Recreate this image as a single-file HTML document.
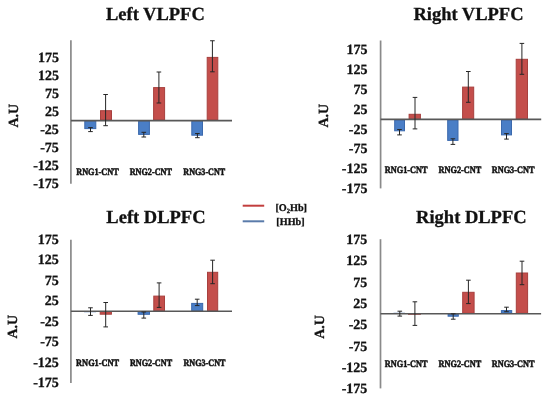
<!DOCTYPE html>
<html><head><meta charset="utf-8"><style>
html,body{margin:0;padding:0;background:#fff;}
body{width:550px;height:401px;position:relative;overflow:hidden;}
svg{position:absolute;left:0;top:0;filter:blur(0.6px);}
text{font-family:"Liberation Serif",serif;font-weight:bold;fill:#111;stroke:#111;stroke-width:0.3px;text-rendering:geometricPrecision;}
</style></head><body>
<svg width="550" height="401" viewBox="0 0 550 401">
<path d="M70.90 40.20V183.70" stroke="#8a8a8a" stroke-width="1.7" fill="none"/>
<rect x="84.80" y="121.10" width="11.00" height="7.50" fill="#4A7EC6" stroke="#3B69AD" stroke-width="1"/>
<rect x="100.50" y="110.70" width="11.00" height="9.40" fill="#C44E4B" stroke="#A8403E" stroke-width="1"/>
<rect x="138.60" y="121.10" width="10.80" height="13.30" fill="#4A7EC6" stroke="#3B69AD" stroke-width="1"/>
<rect x="153.60" y="87.60" width="11.00" height="32.50" fill="#C44E4B" stroke="#A8403E" stroke-width="1"/>
<rect x="191.80" y="121.10" width="10.70" height="14.10" fill="#4A7EC6" stroke="#3B69AD" stroke-width="1"/>
<rect x="207.20" y="57.40" width="10.60" height="62.70" fill="#C44E4B" stroke="#A8403E" stroke-width="1"/>
<path d="M70.90 120.60H232.00" stroke="#585858" stroke-width="1.6" fill="none"/>
<path d="M90.50 127.60V131.60M88.20 127.60H92.80M88.20 131.60H92.80" stroke="#262626" stroke-width="1.0" fill="none"/>
<path d="M105.60 94.50V125.70M103.30 94.50H107.90M103.30 125.70H107.90" stroke="#262626" stroke-width="1.0" fill="none"/>
<path d="M143.80 132.30V137.00M141.50 132.30H146.10M141.50 137.00H146.10" stroke="#262626" stroke-width="1.0" fill="none"/>
<path d="M158.90 72.00V103.00M156.60 72.00H161.20M156.60 103.00H161.20" stroke="#262626" stroke-width="1.0" fill="none"/>
<path d="M197.40 133.50V137.70M195.10 133.50H199.70M195.10 137.70H199.70" stroke="#262626" stroke-width="1.0" fill="none"/>
<path d="M212.40 40.75V71.80M210.10 40.75H214.70M210.10 71.80H214.70" stroke="#262626" stroke-width="1.0" fill="none"/>
<path d="M380.60 40.50V188.40" stroke="#8a8a8a" stroke-width="1.7" fill="none"/>
<rect x="394.70" y="119.90" width="9.80" height="10.90" fill="#4A7EC6" stroke="#3B69AD" stroke-width="1"/>
<rect x="409.10" y="114.30" width="11.30" height="4.60" fill="#C44E4B" stroke="#A8403E" stroke-width="1"/>
<rect x="447.70" y="119.90" width="10.30" height="20.50" fill="#4A7EC6" stroke="#3B69AD" stroke-width="1"/>
<rect x="462.60" y="87.10" width="11.10" height="31.80" fill="#C44E4B" stroke="#A8403E" stroke-width="1"/>
<rect x="501.50" y="119.90" width="10.00" height="15.00" fill="#4A7EC6" stroke="#3B69AD" stroke-width="1"/>
<rect x="516.20" y="59.30" width="11.30" height="59.60" fill="#C44E4B" stroke="#A8403E" stroke-width="1"/>
<path d="M380.60 119.40H541.20" stroke="#585858" stroke-width="1.6" fill="none"/>
<path d="M399.50 129.50V134.90M397.20 129.50H401.80M397.20 134.90H401.80" stroke="#262626" stroke-width="1.0" fill="none"/>
<path d="M415.00 97.40V128.90M412.70 97.40H417.30M412.70 128.90H417.30" stroke="#262626" stroke-width="1.0" fill="none"/>
<path d="M452.90 138.80V144.40M450.60 138.80H455.20M450.60 144.40H455.20" stroke="#262626" stroke-width="1.0" fill="none"/>
<path d="M468.30 71.50V102.30M466.00 71.50H470.60M466.00 102.30H470.60" stroke="#262626" stroke-width="1.0" fill="none"/>
<path d="M506.50 133.60V139.10M504.20 133.60H508.80M504.20 139.10H508.80" stroke="#262626" stroke-width="1.0" fill="none"/>
<path d="M521.90 43.40V74.30M519.60 43.40H524.20M519.60 74.30H524.20" stroke="#262626" stroke-width="1.0" fill="none"/>
<path d="M70.90 239.80V383.10" stroke="#8a8a8a" stroke-width="1.7" fill="none"/>
<rect x="84.00" y="311.20" width="12.00" height="1.00" fill="#3B69AD"/>
<rect x="100.20" y="311.70" width="11.20" height="2.50" fill="#C44E4B" stroke="#A8403E" stroke-width="1"/>
<rect x="138.10" y="311.70" width="11.40" height="2.60" fill="#4A7EC6" stroke="#3B69AD" stroke-width="1"/>
<rect x="153.80" y="296.10" width="10.70" height="14.60" fill="#C44E4B" stroke="#A8403E" stroke-width="1"/>
<rect x="191.70" y="303.40" width="11.00" height="7.30" fill="#4A7EC6" stroke="#3B69AD" stroke-width="1"/>
<rect x="207.50" y="272.30" width="10.20" height="38.40" fill="#C44E4B" stroke="#A8403E" stroke-width="1"/>
<path d="M70.90 311.20H232.00" stroke="#585858" stroke-width="1.6" fill="none"/>
<path d="M90.50 307.80V315.40M88.20 307.80H92.80M88.20 315.40H92.80" stroke="#262626" stroke-width="1.0" fill="none"/>
<path d="M105.70 302.50V326.90M103.40 302.50H108.00M103.40 326.90H108.00" stroke="#262626" stroke-width="1.0" fill="none"/>
<path d="M143.80 312.00V318.10M141.50 312.00H146.10M141.50 318.10H146.10" stroke="#262626" stroke-width="1.0" fill="none"/>
<path d="M159.10 282.90V307.40M156.80 282.90H161.40M156.80 307.40H161.40" stroke="#262626" stroke-width="1.0" fill="none"/>
<path d="M197.20 299.20V305.60M194.90 299.20H199.50M194.90 305.60H199.50" stroke="#262626" stroke-width="1.0" fill="none"/>
<path d="M212.60 260.20V283.70M210.30 260.20H214.90M210.30 283.70H214.90" stroke="#262626" stroke-width="1.0" fill="none"/>
<path d="M380.50 239.20V388.40" stroke="#8a8a8a" stroke-width="1.7" fill="none"/>
<rect x="393.50" y="312.80" width="11.50" height="1.00" fill="#3B69AD"/>
<rect x="408.00" y="313.80" width="12.90" height="1.00" fill="#A8403E"/>
<rect x="448.10" y="314.30" width="10.20" height="1.90" fill="#4A7EC6" stroke="#3B69AD" stroke-width="1"/>
<rect x="462.70" y="292.30" width="11.40" height="21.00" fill="#C44E4B" stroke="#A8403E" stroke-width="1"/>
<rect x="501.40" y="310.60" width="10.30" height="2.70" fill="#4A7EC6" stroke="#3B69AD" stroke-width="1"/>
<rect x="516.30" y="273.00" width="11.30" height="40.30" fill="#C44E4B" stroke="#A8403E" stroke-width="1"/>
<path d="M380.50 313.80H541.10" stroke="#585858" stroke-width="1.6" fill="none"/>
<path d="M399.80 311.20V316.10M397.50 311.20H402.10M397.50 316.10H402.10" stroke="#262626" stroke-width="1.0" fill="none"/>
<path d="M414.90 301.80V325.40M412.60 301.80H417.20M412.60 325.40H417.20" stroke="#262626" stroke-width="1.0" fill="none"/>
<path d="M453.20 313.80V319.20M450.90 313.80H455.50M450.90 319.20H455.50" stroke="#262626" stroke-width="1.0" fill="none"/>
<path d="M468.40 280.20V303.60M466.10 280.20H470.70M466.10 303.60H470.70" stroke="#262626" stroke-width="1.0" fill="none"/>
<path d="M506.50 307.20V311.70M504.20 307.20H508.80M504.20 311.70H508.80" stroke="#262626" stroke-width="1.0" fill="none"/>
<path d="M522.00 261.20V284.70M519.70 261.20H524.30M519.70 284.70H524.30" stroke="#262626" stroke-width="1.0" fill="none"/>
<path d="M242.7 205.7H264.2" stroke="#C23E3D" stroke-width="2" fill="none"/>
<path d="M242.7 221.3H264.2" stroke="#5A7BAA" stroke-width="2" fill="none"/>
<text x="105.95" y="20.19" font-size="18.5" >Left VLPFC</text>
<text x="58.88" y="61.63" font-size="14" text-anchor="end">175</text>
<text x="58.88" y="79.72" font-size="14" text-anchor="end">125</text>
<text x="58.88" y="97.80" font-size="14" text-anchor="end">75</text>
<text x="58.88" y="115.89" font-size="14" text-anchor="end">25</text>
<text x="58.88" y="133.97" font-size="14" text-anchor="end">-25</text>
<text x="58.88" y="152.06" font-size="14" text-anchor="end">-75</text>
<text x="58.88" y="170.14" font-size="14" text-anchor="end">-125</text>
<text x="58.88" y="188.23" font-size="14" text-anchor="end">-175</text>
<text transform="translate(18.37 115.76) rotate(-90)" text-anchor="middle" font-size="14">A.U</text>
<text x="76.22" y="174.65" font-size="9.8" textLength="42.40" lengthAdjust="spacingAndGlyphs" style="stroke-width:0.5px">RNG1-CNT</text>
<text x="129.72" y="174.65" font-size="9.8" textLength="42.20" lengthAdjust="spacingAndGlyphs" style="stroke-width:0.5px">RNG2-CNT</text>
<text x="183.32" y="174.65" font-size="9.8" textLength="41.90" lengthAdjust="spacingAndGlyphs" style="stroke-width:0.5px">RNG3-CNT</text>
<text x="413.39" y="20.10" font-size="18.5" >Right VLPFC</text>
<text x="367.42" y="54.49" font-size="14" text-anchor="end">175</text>
<text x="367.42" y="74.29" font-size="14" text-anchor="end">125</text>
<text x="367.42" y="94.09" font-size="14" text-anchor="end">75</text>
<text x="367.42" y="113.89" font-size="14" text-anchor="end">25</text>
<text x="367.42" y="133.69" font-size="14" text-anchor="end">-25</text>
<text x="367.42" y="153.49" font-size="14" text-anchor="end">-75</text>
<text x="367.42" y="173.29" font-size="14" text-anchor="end">-125</text>
<text x="367.42" y="193.09" font-size="14" text-anchor="end">-175</text>
<text transform="translate(328.07 115.76) rotate(-90)" text-anchor="middle" font-size="14">A.U</text>
<text x="384.84" y="173.36" font-size="9.8" textLength="42.70" lengthAdjust="spacingAndGlyphs" style="stroke-width:0.5px">RNG1-CNT</text>
<text x="438.54" y="173.36" font-size="9.8" textLength="42.70" lengthAdjust="spacingAndGlyphs" style="stroke-width:0.5px">RNG2-CNT</text>
<text x="491.74" y="173.36" font-size="9.8" textLength="42.70" lengthAdjust="spacingAndGlyphs" style="stroke-width:0.5px">RNG3-CNT</text>
<text x="106.37" y="222.81" font-size="18.5" >Left DLPFC</text>
<text x="58.83" y="243.79" font-size="14" text-anchor="end">175</text>
<text x="58.83" y="264.32" font-size="14" text-anchor="end">125</text>
<text x="58.83" y="284.85" font-size="14" text-anchor="end">75</text>
<text x="58.83" y="305.38" font-size="14" text-anchor="end">25</text>
<text x="58.83" y="325.90" font-size="14" text-anchor="end">-25</text>
<text x="58.83" y="346.43" font-size="14" text-anchor="end">-75</text>
<text x="58.83" y="366.96" font-size="14" text-anchor="end">-125</text>
<text x="58.83" y="387.49" font-size="14" text-anchor="end">-175</text>
<text transform="translate(17.35 326.76) rotate(-90)" text-anchor="middle" font-size="14">A.U</text>
<text x="76.11" y="365.57" font-size="9.8" textLength="43.00" lengthAdjust="spacingAndGlyphs" style="stroke-width:0.5px">RNG1-CNT</text>
<text x="129.91" y="365.57" font-size="9.8" textLength="42.20" lengthAdjust="spacingAndGlyphs" style="stroke-width:0.5px">RNG2-CNT</text>
<text x="183.51" y="365.57" font-size="9.8" textLength="41.90" lengthAdjust="spacingAndGlyphs" style="stroke-width:0.5px">RNG3-CNT</text>
<text x="416.10" y="223.05" font-size="18.5" >Right DLPFC</text>
<text x="367.36" y="243.87" font-size="14" text-anchor="end">175</text>
<text x="367.36" y="265.21" font-size="14" text-anchor="end">125</text>
<text x="367.36" y="286.56" font-size="14" text-anchor="end">75</text>
<text x="367.36" y="307.90" font-size="14" text-anchor="end">25</text>
<text x="367.36" y="329.24" font-size="14" text-anchor="end">-25</text>
<text x="367.36" y="350.58" font-size="14" text-anchor="end">-75</text>
<text x="367.36" y="371.93" font-size="14" text-anchor="end">-125</text>
<text x="367.36" y="393.27" font-size="14" text-anchor="end">-175</text>
<text transform="translate(323.89 327.01) rotate(-90)" text-anchor="middle" font-size="14">A.U</text>
<text x="384.84" y="367.40" font-size="9.8" textLength="42.70" lengthAdjust="spacingAndGlyphs" style="stroke-width:0.5px">RNG1-CNT</text>
<text x="438.54" y="367.40" font-size="9.8" textLength="42.70" lengthAdjust="spacingAndGlyphs" style="stroke-width:0.5px">RNG2-CNT</text>
<text x="491.74" y="367.40" font-size="9.8" textLength="42.70" lengthAdjust="spacingAndGlyphs" style="stroke-width:0.5px">RNG3-CNT</text>
<text x="275.44" y="210.50" font-size="10.2">[O<tspan font-size="6.5" dy="2">2</tspan><tspan dy="-2">Hb]</tspan></text>
<text x="276.35" y="224.96" font-size="10.2">[HHb]</text>
</svg>
</body></html>
